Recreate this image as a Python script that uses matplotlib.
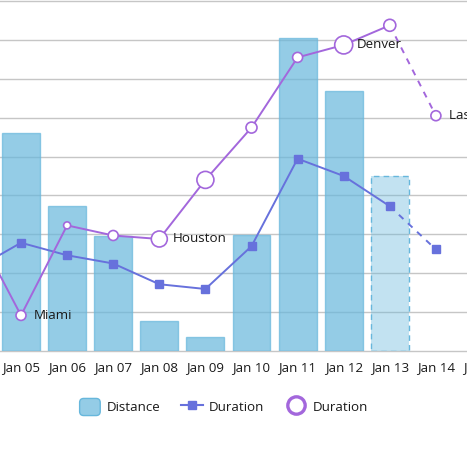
import matplotlib
matplotlib.use("Agg")
import matplotlib.pyplot as plt
from matplotlib.lines import Line2D
from matplotlib.patches import Patch, FancyBboxPatch
from matplotlib.legend_handler import HandlerPatch

# ---- data (amCharts style: distance / duration / latitude) ----
days = [1, 2, 3, 4, 5, 6, 7, 8, 9, 10, 11, 12, 13, 14]
day_labels = ["Jan %02d" % d for d in days] + ["Jan 15"]
distance = [227, 371, 433, 345, 480, 386, 348, 238, 218, 349, 603, 534, 425, None]
duration = [408, 482, 562, 379, 501, 443, 405, 309, 287, 485, 890, 810, 670, 470]
latitude = [40.71, 38.89, 34.22, 30.35, 25.83, 30.46, 29.94, 29.76, 32.8, 35.49, 39.1, 39.74, 40.75, 36.1]
town_size = [25, 14, 6, 7, 10, 7, 10, 16, 17, 11, 10, 18, 12, 10]
town_label = ["New York", "", "", "", "Miami", "", "", "Houston", "", "", "", "Denver", "", "Las Vegas"]
dashed_from = 13  # last segment / last bar drawn dashed

C_BAR = "#67b7dc"
C_DUR = "#6771dc"
C_LAT = "#a367dc"
FONT = "Open Sans"
plt.rcParams['font.family'] = [FONT, 'DejaVu Sans']
FS = 9.6

W, H = 467, 470
fig = plt.figure(figsize=(W / 100, H / 100), dpi=100)

# axes geometry in pixels (plot extends beyond the visible crop)
px_per_day = 46.1
x05 = 21.0
d0, d1 = 3.5, 15.5
p0 = x05 + (d0 - 5) * px_per_day
p1 = x05 + (d1 - 5) * px_per_day
y_bot, y_top = 351.0, 1.0
ax = fig.add_axes([p0 / W, (H - y_bot) / H, (p1 - p0) / W, (y_bot - y_top) / H])
for s in ax.spines.values():
    s.set_visible(False)
ax.set_yticks([])

# gridlines
for v in range(200, 651, 50):
    ax.axhline(v, color="#c6c6c6", lw=1.0, zorder=0, clip_on=False)

# bars
for d, v in zip(days, distance):
    if v is None:
        continue
    if d >= dashed_from:
        ax.bar(d, v - 200, bottom=200, width=0.82, color=C_BAR, alpha=0.4, zorder=1, lw=0)
        ax.bar(d, v - 200, bottom=200, width=0.82, fill=False, edgecolor=C_BAR,
               lw=1.0, linestyle=(0, (4, 3)), zorder=1)
    else:
        ax.bar(d, v - 200, bottom=200, width=0.82, color=C_BAR, alpha=0.7,
               edgecolor=C_BAR, lw=1.0, zorder=1)

ax.set_xticks(days + [15])
ax.set_xticklabels(day_labels, fontsize=FS, color="#1a1a1a")
ax.tick_params(axis="x", length=0, pad=7.5)

# duration axis
ax2 = ax.twinx()
ax2.set_axis_off()
i = days.index(dashed_from)
ax2.plot(days[:i + 1], duration[:i + 1], color=C_DUR, lw=1.4, zorder=3)
ax2.plot(days[i:], duration[i:], color=C_DUR, lw=1.4, ls=(0, (3.2, 3.2)), zorder=3)
ax2.plot(days, duration, ls="none", marker="s", ms=5.4, color=C_DUR, zorder=4)

# latitude axis
ax3 = ax.twinx()
ax3.set_axis_off()
ax3.plot(days[:i + 1], latitude[:i + 1], color=C_LAT, lw=1.4, zorder=5)
ax3.plot(days[i:], latitude[i:], color=C_LAT, lw=1.4, ls=(0, (3.2, 3.2)), zorder=5)
sizes = [(ts * 0.72) ** 2 for ts in town_size]
ax3.scatter(days, latitude, s=sizes, facecolor="white", edgecolor=C_LAT, lw=1.2, zorder=6)
for d, la, lab in zip(days, latitude, town_label):
    if lab:
        ax3.annotate(lab, (d, la), xytext=(9.4, 0), textcoords="offset points",
                     va="center", ha="left", fontsize=FS, color="#1a1a1a", zorder=7)

# limits last (twin axes share x and would otherwise autoscale it)
ax.set_ylim(200, 650)
ax2.set_ylim(0, 1620)
ax3.set_ylim(24, 42)
ax.set_xlim(d0, d1)


class RoundHandler(HandlerPatch):
    def create_artists(self, legend, orig_handle, xdescent, ydescent, width, height, fontsize, trans):
        p = FancyBboxPatch((-xdescent + 0.5, -ydescent), width - 1, height,
                           boxstyle="round,pad=0,rounding_size=3",
                           facecolor=orig_handle.get_facecolor(),
                           edgecolor=orig_handle.get_edgecolor(), lw=1.0, transform=trans)
        return [p]


h1 = Patch(facecolor=(0x67 / 255, 0xb7 / 255, 0xdc / 255, 0.7), edgecolor=C_BAR)
h2 = Line2D([], [], color=C_DUR, lw=1.5, marker="s", ms=5.4)
h3 = Line2D([], [], color=C_LAT, lw=0, marker="o", ms=12.5, mfc="white", mec=C_LAT, mew=2.4)
fig.legend([h1, h2, h3], ["Distance", "Duration", "Duration"], loc="center",
           bbox_to_anchor=(223.5 / W, (H - 407) / H), ncol=3, frameon=False,
           fontsize=FS, handlelength=1.65, handleheight=1.6, handletextpad=0.4,
           columnspacing=1.6, handler_map={Patch: RoundHandler()},
           labelcolor="#1a1a1a")

fig.savefig("out.png", dpi=100)
